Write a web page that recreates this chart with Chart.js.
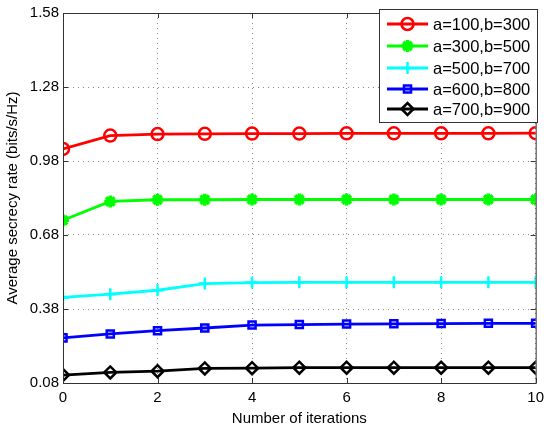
<!DOCTYPE html>
<html lang="en">
<head>
  <meta charset="UTF-8">
  <title>Average secrecy rate vs iterations</title>
  <script src="https://cdn.jsdelivr.net/npm/chart.js"></script>
  <style>
    body { margin: 0; background: #fff; }
  </style>
</head>
<body>
  <div style="width: 550px; height: 428px;">
    <canvas id="rateChart"></canvas>
  </div>

  <script>
    const iterations = [0, 1, 2, 3, 4, 5, 6, 7, 8, 9, 10];
    const seriesNames = ['a=100,b=300', 'a=300,b=500', 'a=500,b=700', 'a=600,b=800', 'a=700,b=900'];
    const rateA100 = [1.029, 1.083, 1.089, 1.090, 1.091, 1.091, 1.092, 1.092, 1.092, 1.092, 1.093];
    const rateA300 = [0.740, 0.816, 0.823, 0.823, 0.824, 0.824, 0.824, 0.824, 0.824, 0.824, 0.824];
    const rateA500 = [0.427, 0.440, 0.456, 0.483, 0.487, 0.488, 0.488, 0.488, 0.488, 0.488, 0.488];
    const rateA600 = [0.263, 0.279, 0.292, 0.303, 0.315, 0.317, 0.319, 0.320, 0.321, 0.322, 0.322];
    const rateA700 = [0.112, 0.123, 0.128, 0.139, 0.140, 0.142, 0.142, 0.142, 0.142, 0.142, 0.142];
    const yTicks = [0.08, 0.38, 0.68, 0.98, 1.28, 1.58];
    const xTicks = [0, 2, 4, 6, 8, 10];

    const colors = ['rgb(255,0,0)', 'rgb(0,255,0)', 'rgb(0,255,255)', 'rgb(0,0,255)', 'rgb(0,0,0)'];
    const markers = ['circle', 'star', 'cross', 'rect', 'rectRot'];
    const radii = [6, 6, 6, 5, 6];
    const allRates = [rateA100, rateA300, rateA500, rateA600, rateA700];

    const font = "'Liberation Sans', Arial, sans-serif";

    const datasets = allRates.map((vals, i) => ({
      label: seriesNames[i],
      data: iterations.map((x, k) => ({ x: x, y: vals[k] })),
      borderColor: colors[i],
      backgroundColor: 'rgba(0,0,0,0)',
      pointBorderColor: colors[i],
      pointBackgroundColor: 'rgba(0,0,0,0)',
      pointStyle: markers[i],
      pointRadius: radii[i],
      pointBorderWidth: i === 1 ? 3.5 : 2.5,
      borderWidth: 2.8,
      tension: 0
    }));

    // matlab style box, inner ticks and legend inside the axes
    const matlabBox = {
      id: 'matlabBox',
      afterDraw(chart) {
        const { ctx, chartArea: a, scales } = chart;
        ctx.save();
        ctx.strokeStyle = '#333';
        ctx.lineWidth = 1;
        ctx.strokeRect(a.left + 0.5, a.top + 0.5, a.right - a.left, a.bottom - a.top);
        ctx.beginPath();
        xTicks.forEach(v => {
          const px = Math.round(scales.x.getPixelForValue(v)) + 0.5;
          ctx.moveTo(px, a.bottom); ctx.lineTo(px, a.bottom - 5);
          ctx.moveTo(px, a.top); ctx.lineTo(px, a.top + 5);
        });
        yTicks.forEach(v => {
          const py = Math.round(scales.y.getPixelForValue(v)) + 0.5;
          ctx.moveTo(a.left, py); ctx.lineTo(a.left + 5, py);
          ctx.moveTo(a.right, py); ctx.lineTo(a.right - 5, py);
        });
        ctx.stroke();

        // legend
        const bx = 379, by = 9, bw = 158, bh = 113;
        ctx.fillStyle = '#fff';
        ctx.fillRect(bx, by, bw, bh);
        ctx.strokeStyle = '#333';
        ctx.strokeRect(bx + 0.5, by + 0.5, bw, bh);
        const rows = [24, 46, 68, 89, 109];
        chart.data.datasets.forEach((ds, i) => {
          const y = rows[i];
          ctx.strokeStyle = ds.borderColor;
          ctx.lineWidth = ds.borderWidth;
          ctx.beginPath();
          ctx.moveTo(387, y); ctx.lineTo(428, y);
          ctx.stroke();
          ctx.fillStyle = ds.pointBackgroundColor;
          ctx.strokeStyle = ds.pointBorderColor;
          ctx.lineWidth = ds.pointBorderWidth;
          Chart.helpers.drawPoint(ctx, {
            pointStyle: ds.pointStyle, radius: ds.pointRadius,
            borderWidth: ds.pointBorderWidth, rotation: 0
          }, 407.5, y);
          ctx.fillStyle = '#000';
          ctx.font = '16.5px ' + font;
          ctx.textBaseline = 'middle';
          ctx.fillText(ds.label, 433, y + 1);
        });
        ctx.restore();
      }
    };

    const config = {
      type: 'line',
      data: { datasets: datasets },
      options: {
        responsive: true,
        maintainAspectRatio: false,
        animation: false,
        layout: { padding: { top: 9, right: 13, left: 0, bottom: 0 } },
        plugins: {
          legend: { display: false },
          tooltip: { enabled: false }
        },
        scales: {
          x: {
            type: 'linear',
            min: 0,
            max: 10,
            afterBuildTicks: s => { s.ticks = xTicks.map(v => ({ value: v })); },
            afterFit: s => { s.height = 45; },
            grid: { color: '#888', drawTicks: false },
            border: { display: false, dash: [1, 4] },
            ticks: { color: '#000', font: { family: font, size: 15 }, padding: 6, maxRotation: 0 },
            title: {
              display: true, text: 'Number of iterations', color: '#000',
              font: { family: font, size: 15 }, padding: { top: 2, bottom: 0 }
            }
          },
          y: {
            min: 0.08,
            max: 1.58,
            afterBuildTicks: s => { s.ticks = yTicks.map(v => ({ value: v })); },
            afterFit: s => { s.width = 63; },
            grid: { color: '#888', drawTicks: false },
            border: { display: false, dash: [1, 4] },
            ticks: {
              color: '#000', font: { family: font, size: 15 }, padding: 4,
              callback: v => v.toFixed(2)
            },
            title: {
              display: true, text: 'Average secrecy rate (bits/s/Hz)', color: '#000',
              font: { family: font, size: 15 }, padding: { top: 4, bottom: 0 }
            }
          }
        }
      },
      plugins: [matlabBox]
    };

    new Chart(document.getElementById('rateChart'), config);
  </script>
</body>
</html>
